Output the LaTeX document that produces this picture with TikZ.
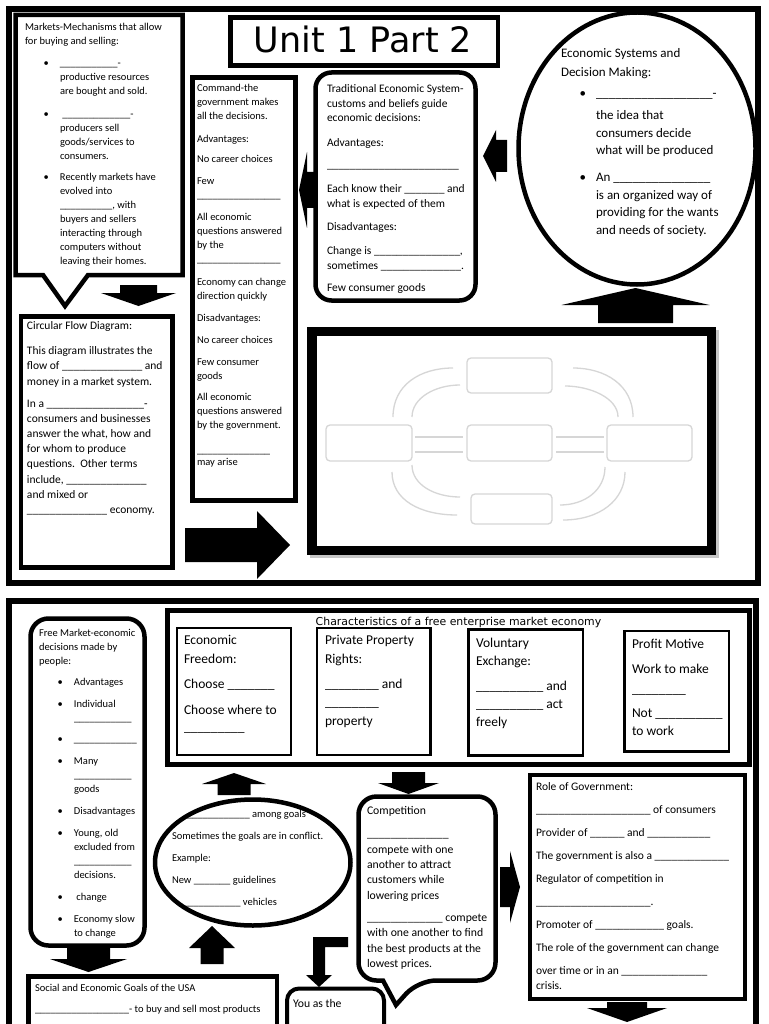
\documentclass[tikz,border=0pt]{standalone}
\usepackage{fontspec}
\setmainfont{Carlito}
\newfontfamily\dejavu{DejaVu Sans}
\ExplSyntaxOn
\NewDocumentCommand\us{m}{\prg_replicate:nn{#1}{\_}}
\ExplSyntaxOff
\newcommand\mybul{\hspace*{18.5pt}\makebox[16.5pt][l]{\textbullet}}
\newcommand\myind{\hspace*{35pt}}
\newcommand\fsz[2]{\fontsize{#1}{#2}\selectfont}
\newcommand\up{\rule{0pt}{0.9em}}
% vertical block arrow: cx, shaft start y, shaft half width, head base y, head half width, tip y
\newcommand\blockv[6]{\fill ({#1-#3},#2) -- ({#1+#3},#2) -- ({#1+#3},#4) -- ({#1+#5},#4) -- (#1,#6) -- ({#1-#5},#4) -- ({#1-#3},#4) -- cycle;}
% horizontal block arrow: cy, shaft start x, shaft half height, head base x, head half height, tip x
\newcommand\blockh[6]{\fill (#2,{#1-#3}) -- (#4,{#1-#3}) -- (#4,{#1-#5}) -- (#6,#1) -- (#4,{#1+#5}) -- (#4,{#1+#3}) -- (#2,{#1+#3}) -- cycle;}
\tikzset{
  txt/.style={inner sep=0pt, outer sep=0pt, align=left, anchor=north west, yshift=#1-2pt},
  thickbox/.style={draw=black, line width=4.5pt},
  thinbox/.style={draw=black, line width=2.4pt},
  panel/.style={draw=black, line width=6pt},
  flowpart/.style={draw=black!16, line width=1.3pt, rounded corners=4pt},
  flowline/.style={draw=black!16, line width=1.3pt},
}
\begin{document}
\begin{tikzpicture}[x=1pt,y=-1pt]
\useasboundingbox (0,0) rectangle (768,1024);
\clip (0,0) rectangle (768,1024);
\fill[white] (0,0) rectangle (768,1024);

% ================= TOP PANEL =================
\draw[panel] (9,9) rectangle (758,583);

% Markets speech bubble
\draw[thickbox, line join=miter] (15.5,15) -- (182.5,15) -- (182.5,275) -- (88,275) -- (65,306) -- (43,275) -- (15.5,275) -- cycle;
\node[txt=9.45pt, font=\fsz{10.5}{14}] (markets) at (25,28.4) {\up Markets-Mechanisms that allow\\
for buying and selling:\\[8pt]
\mybul\us{11}-\\
\myind productive resources\\
\myind are bought and sold.\\[9pt]
\mybul\ \us{13}-\\
\myind producers sell\\
\myind goods/services to\\
\myind consumers.\\[7pt]
\mybul Recently markets have\\
\myind evolved into\\
\myind \us{10}, with\\
\myind buyers and sellers\\
\myind interacting through\\
\myind computers without\\
\myind leaving their homes.};
\blockv{138.5}{285}{18.5}{293}{37.5}{306}

% Title
\draw[thickbox] (230.5,17.5) rectangle (498,65.5);
\node[inner sep=0pt, anchor=base, font=\dejavu\fontsize{35}{38}\selectfont] (title) at (363,53) {Unit 1 Part 2};

% Command box
\draw[thickbox] (192.5,77.5) rectangle (295.5,500.5);
\node[txt=9.45pt, font=\fsz{10.5}{14}] (command) at (197,89.4) {\up Command-the\\ government makes\\ all the decisions.\\[9pt]
Advantages:\\[6pt]
No career choices\\[8pt]
Few\\[0.5pt]
\us{16}\\[7.5pt]
All economic\\ questions answered\\ by the\\[0.5pt]
\us{16}\\[8.5pt]
Economy can change\\ direction quickly\\[8pt]
Disadvantages:\\[8pt]
No career choices\\[8pt]
Few consumer\\ goods\\[7pt]
All economic\\ questions answered\\ by the government.\\[11.5pt]
\us{14}\\[-2.5pt]
may arise};

% Traditional box
\draw[thickbox, rounded corners=16pt] (315.5,72.5) rectangle (475.5,300.5);
\node[txt=10.35pt, font=\fsz{11.5}{14.5}] (traditional) at (327,90.6) {\up Traditional Economic System-\\ customs and beliefs guide\\ economic decisions:\\[10.5pt]
Advantages:\\[7pt]
\us{23}\\[10pt]
Each know their \us{7} and\\ what is expected of them\\[9pt]
Disadvantages:\\[9.5pt]
Change is \us{15},\\ sometimes \us{14}.\\[8pt]
Few consumer goods};
\blockh{190}{314}{18}{307}{38}{299}

% Economic systems ellipse
\draw[thickbox] (637,148.5) ellipse [x radius=118.5, y radius=136];
\node[txt=11.7pt, font=\fsz{13}{17.5}] (econsys) at (561,56) {\up Economic Systems and\\[1.5pt] Decision Making:\\[3.5pt]
\mybul\us{18}-\\[4.5pt]
\myind the idea that\\
\myind consumers decide\\
\myind what will be produced\\[9.5pt]
\mybul An \us{15}\\
\myind is an organized way of\\
\myind providing for the wants\\
\myind and needs of society.};
\blockh{156}{507}{16}{496}{26}{483}
\blockv{635.5}{323}{37.5}{305}{74}{288}

% Circular flow box
\draw[thickbox] (21,316.5) rectangle (172.5,567.5);
\node[txt=10.35pt, font=\fsz{11.5}{15.2}] (circflow) at (27,327.6) {\up Circular Flow Diagram:\\[9.8pt]
This diagram illustrates the\\ flow of \us{14} and\\ money in a market system.\\[6.8pt]
In a \us{17}-\\ consumers and businesses\\ answer the what, how and\\ for whom to produce\\ questions.\ \ Other terms\\ include, \us{14}\\ and mixed or\\ \us{14} economy.};

% Picture frame with faint circular flow diagram
\fill[black!22] (310,330) rectangle (719,558);
\fill[white] (307,327) rectangle (716,555);
\draw[line width=9.5pt] (312,331.5) rectangle (711.5,550.5);
\draw[flowpart] (467,358) rectangle (552,393);
\draw[flowpart] (467,425) rectangle (552,461);
\draw[flowpart] (326,425) rectangle (412,461);
\draw[flowpart] (607,425) rectangle (692,461);
\draw[flowpart] (471,494) rectangle (552,524);
\draw[flowline] (415,437) -- (463,437) (415,452) -- (463,452);
\draw[flowline] (556,437) -- (604,437) (556,452) -- (604,452);
\draw[flowline] (393,417) .. controls (393,385) and (420,368) .. (453,368);
\draw[flowline] (412,417) .. controls (412,398) and (435,385) .. (460,385);
\draw[flowline] (573,368) .. controls (605,368) and (633,385) .. (633,417);
\draw[flowline] (565,386) .. controls (590,386) and (618,398) .. (618,417);
\draw[flowline] (392,472) .. controls (392,500) and (420,515) .. (457,515);
\draw[flowline] (412,465) .. controls (412,485) and (435,497) .. (460,497);
\draw[flowline] (560,505) .. controls (585,505) and (605,490) .. (605,467);
\draw[flowline] (563,520) .. controls (600,520) and (625,500) .. (625,472);

\blockh{545}{185}{17}{257}{34}{290}

% ================= BOTTOM PANEL =================
\draw[panel] (9,601) rectangle (756,1040);

% Free market box
\draw[thickbox, rounded corners=18pt] (30.5,618.5) rectangle (144.5,945.5);
\node[txt=9.45pt, font=\fsz{10.5}{14}] (freemarket) at (39,634.4) {\up Free Market-economic\\ decisions made by\\ people:\\[7pt]
\mybul Advantages\\[8pt]
\mybul Individual\\
\myind \us{11}\\[7pt]
\mybul \us{12}\\[8pt]
\mybul Many\\
\myind \us{11}\\
\myind goods\\[8pt]
\mybul Disadvantages\\[8pt]
\mybul Young, old\\
\myind excluded from\\
\myind \us{11}\\
\myind decisions.\\[8pt]
\mybul\ change\\[8pt]
\mybul Economy slow\\
\myind to change};
\blockv{88.5}{945}{21.5}{959}{38.5}{972}

% Characteristics
\draw[thickbox] (167.5,610.5) rectangle (749.5,764.5);
\node[inner sep=0pt, anchor=base, font=\dejavu\fontsize{10.9}{13}\selectfont] (charhead) at (458.5,625) {Characteristics of a free enterprise market economy};
\draw[thinbox] (177,628) rectangle (291,755);
\node[txt=12.15pt, font=\fsz{13.5}{19}] (freedom) at (184,642) {\up Economic\\ Freedom:\\[6pt] Choose \us{7}\\[7pt] Choose where to\\[-2pt] \us{9}};
\draw[thinbox] (317,628) rectangle (430.5,755);
\node[txt=12.15pt, font=\fsz{13.5}{19}] (property) at (325,642) {\up Private Property\\ Rights:\\[6pt] \us{8} and\\[-1pt] \us{8}\\ property};
\draw[thinbox] (468.5,629.5) rectangle (583,755.5);
\node[txt=12.15pt, font=\fsz{13.5}{18}] (voluntary) at (476,645) {\up Voluntary\\ Exchange:\\[7pt] \us{10} and\\ \us{10} act\\ freely};
\draw[thinbox] (624.5,631) rectangle (729,751.5);
\node[txt=12.15pt, font=\fsz{13.5}{18}] (profit) at (632,646) {\up Profit Motive\\[7pt] Work to make\\[2pt] \us{8}\\[6pt] Not \us{10}\\ to work};

\blockv{234}{795}{16.5}{784}{32}{773}
\blockv{408.5}{772}{16.5}{783}{30.5}{794}

% Goals ellipse
\draw[thickbox] (252.75,862.5) ellipse [x radius=97.75, y radius=63];
\node[txt=9.45pt, font=\fsz{10.5}{22}] (amonggoals) at (172,815.4) {\up\hspace*{15pt}\us{12} among goals\\ Sometimes the goals are in conflict.\\ Example:\\ New \us{7} guidelines\\ \hspace*{11pt}\us{11} vehicles};
\blockv{212}{964}{11.5}{948}{23}{926}

% Social goals box
\draw[thickbox] (28.5,976.5) rectangle (277,1040);
\node[txt=9.45pt, font=\fsz{10.5}{21}] (socialgoals) at (35,989.4) {\up Social and Economic Goals of the USA\\ \us{18}- to buy and sell most products};

% Competition bubble
\draw[thickbox, line join=miter] (396,1005) -- (383,980.5) [rounded corners=18pt] -- (358.5,980.5) -- (358.5,796.5) -- (495.5,796.5) -- (495.5,980.5) -- (418,980.5) [sharp corners] -- cycle;
\node[txt=10.53pt, font=\fsz{11.7}{15.3}] (competition) at (367,812.6) {\up Competition\\[8pt] \us{14}\\ compete with one\\ another to attract\\ customers while\\ lowering prices\\[7pt] \us{13} compete\\ with one another to find\\ the best products at the\\ lowest prices.};

% L-shaped arrow
\fill (348,937) -- (313,937) -- (313,975) -- (306,975) -- (319,987) -- (332,975) -- (325,975) -- (325,947) -- (348,947) -- cycle;

% You as the box
\draw[line width=4pt, rounded corners=12pt] (287,988.5) rectangle (384,1045);
\node[txt=10.53pt, font=\fsz{11.7}{14}] (youasthe) at (293,1005.6) {\up You as the};

\blockh{887}{500}{20}{510}{36}{520}

% Role of government
\draw[line width=4pt] (530,775) rectangle (745,999);
\node[txt=10.35pt, font=\fsz{11.5}{23}] (rolegov) at (536,788.6) {\up Role of Government:\\ \us{20} of consumers\\ Provider of \us{6} and \us{11}\\ The government is also a \us{13}\\ Regulator of competition in\\ \us{20}.\\ Promoter of \us{12} goals.\\ The role of the government can change\\ over time or in an \us{15}\\[-8pt] crisis.};
\blockv{627}{1002}{20}{1008}{40}{1022}
\end{tikzpicture}
\end{document}
